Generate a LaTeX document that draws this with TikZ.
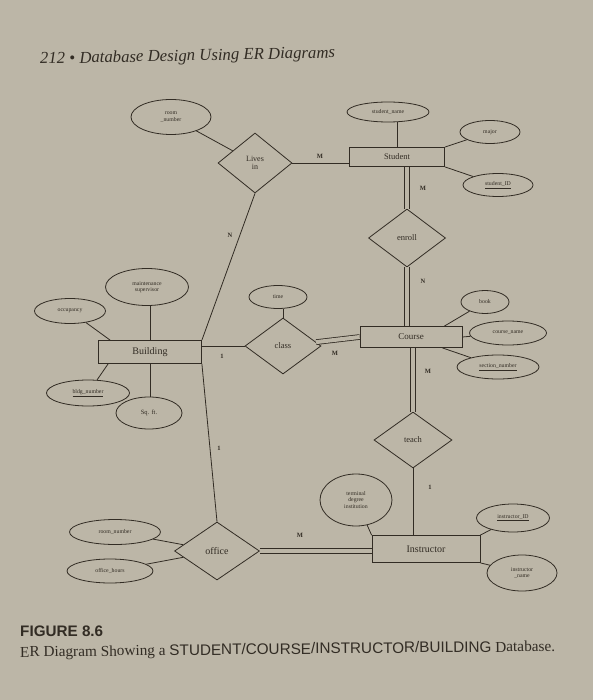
\documentclass[tikz,border=0pt]{standalone}
\usepackage{graphicx}
\usepackage{fontspec}
\setmainfont{Liberation Serif}
\newfontfamily\capsans{Liberation Sans}
\usetikzlibrary{shapes.geometric}
\definecolor{paper}{RGB}{188,182,167}
\definecolor{ink}{RGB}{50,44,36}
\begin{document}
\begin{tikzpicture}[x=1pt,y=-1pt,
  ent/.style={draw=ink, line width=0.8pt, rectangle, inner sep=0pt, text=ink, font=\fontsize{9}{10}\selectfont},
  rel/.style={draw=ink, line width=0.8pt, diamond, inner sep=0pt, text=ink, align=center, font=\fontsize{8.5}{9}\selectfont},
  attr/.style={draw=ink, line width=0.8pt, ellipse, inner sep=0pt, text=ink, align=center, font=\fontsize{5.8}{6.4}\selectfont},
  lab/.style={text=ink, font=\fontsize{6.5}{7}\selectfont\bfseries},
  conn/.style={draw=ink, line width=0.8pt},
  dbl/.style={draw=ink, line width=0.8pt, double=paper, double distance=4pt}]
\fill[paper] (0,0) rectangle (593,700);
\useasboundingbox (0,0) rectangle (593,700);
% header
\node[anchor=base west, text=ink, rotate=1.2, inner sep=0pt] (hdr) at (40,64)
  {\resizebox{295pt}{!}{\itshape 212 \textbullet\ Database Design Using ER Diagrams}};
% top part
\node[attr, minimum width=80, minimum height=35] (rn) at (171,117) {room\\\_number};
\node[rel, minimum width=74, minimum height=60, font=\fontsize{8}{8.5}\selectfont] (lives) at (255,163) {Lives\\in};
\node[ent, minimum width=95, minimum height=19, font=\fontsize{8.5}{9}\selectfont] (student) at (397,157) {Student};
\node[attr, minimum width=82, minimum height=20] (sname) at (388,112) {student\_name};
\node[attr, minimum width=60, minimum height=23] (major) at (490,132) {major};
\node[attr, minimum width=70, minimum height=23] (sid) at (498,185) {\underline{student\_ID}};
\node[rel, minimum width=77, minimum height=58] (enroll) at (407,238) {enroll};
\node[ent, minimum width=102, minimum height=21] (course) at (411,337) {Course};
\node[attr, minimum width=58, minimum height=23] (time) at (278,297) {time};
\node[rel, minimum width=76, minimum height=56] (class) at (283,346) {class};
\node[attr, minimum width=48, minimum height=23] (book) at (485,302) {book};
\node[attr, minimum width=77, minimum height=24] (cname) at (508,333) {course\_name};
\node[attr, minimum width=82, minimum height=24] (secnum) at (498,367) {\underline{section\_number}};
\node[rel, minimum width=78, minimum height=56] (teach) at (413,440) {teach};
\node[ent, minimum width=108, minimum height=27, font=\fontsize{10}{11}\selectfont] (instr) at (426,549) {Instructor};
\node[attr, minimum width=72, minimum height=52] (tdi) at (356,500) {terminal\\degree\\institution};
\node[attr, minimum width=73, minimum height=28] (iid) at (513,518) {\underline{instructor\_ID}};
\node[attr, minimum width=70, minimum height=36] (iname) at (522,573) {instructor\\\_name};
\node[rel, minimum width=85, minimum height=58, font=\fontsize{10}{11}\selectfont] (office) at (217,551) {office};
\node[attr, minimum width=91, minimum height=25] (rn2) at (115,532) {room\_number};
\node[attr, minimum width=86, minimum height=24] (oh) at (110,571) {office\_hours};
\node[ent, minimum width=103, minimum height=23, font=\fontsize{10}{11}\selectfont] (building) at (150,352) {Building};
\node[attr, minimum width=83, minimum height=37] (ms) at (147,287) {maintenance\\supervisor};
\node[attr, minimum width=71, minimum height=25] (occ) at (70,311) {occupancy};
\node[attr, minimum width=83, minimum height=26] (bn) at (88,393) {\underline{bldg\_number}};
\node[attr, minimum width=66, minimum height=32, font=\fontsize{6.5}{7}\selectfont] (sqft) at (149,413) {Sq. ft.};
% connectors
\draw[conn] (rn) -- (lives);
\draw[conn] (lives.east) -- (lives.east -| student.west);
\draw[conn] (student.north) -- (student.north |- sname.south);
\draw[conn] (student.north east) -- (major);
\draw[conn] (student.south east) -- (sid);
\draw[dbl] (student.south -| enroll.north) -- (enroll.north);
\draw[dbl] (enroll.south) -- (enroll.south |- course.north);
\draw[conn] (class.north) -- (class.north |- time.south);
\draw[dbl] (course.west) -- (class);
\draw[conn] ([xshift=-18pt]course.north east) -- (book);
\draw[conn] (course.east) -- (cname);
\draw[conn] ([xshift=-20pt]course.south east) -- (secnum);
\draw[dbl] (course.south -| teach.north) -- (teach.north);
\draw[conn] (teach.south) -- (teach.south |- instr.north);
\draw[conn] (instr.north west) -- (tdi);
\draw[conn] (instr.north east) -- (iid);
\draw[conn] (instr.south east) -- (iname);
\draw[dbl] (office.east) -- (office.east -| instr.west);
\draw[conn] (rn2) -- (office);
\draw[conn] (oh) -- (office);
\draw[conn] (building.south east) -- (office.north);
\draw[conn] (lives.south) -- (building.north east);
\draw[conn] (class.west) -- (class.west -| building.east);
\draw[conn] (building.north) -- (building.north |- ms.south);
\draw[conn] ([xshift=12pt]building.north west) -- (occ);
\draw[conn] ([xshift=10pt]building.south west) -- (bn);
\draw[conn] (building.south) -- (building.south |- sqft.north);
% cardinality labels
\node[lab] (l1) at (320,156) {M};
\node[lab] (l2) at (423,188) {M};
\node[lab] (l3) at (423,281) {N};
\node[lab] (l4) at (335,353) {M};
\node[lab] (l5) at (428,371) {M};
\node[lab] (l6) at (430,487) {1};
\node[lab] (l7) at (300,535) {M};
\node[lab] (l8) at (219,448) {1};
\node[lab] (l9) at (230,235) {N};
\node[lab] (l10) at (222,356) {1};
% caption
\node[anchor=base west, text=ink, inner sep=0pt] (cap1) at (20,636)
  {\resizebox{83pt}{!}{\capsans\bfseries FIGURE 8.6}};
\node[anchor=base west, text=ink, inner sep=0pt, rotate=0.6] (cap2) at (20,657)
  {\resizebox{535pt}{!}{ER Diagram Showing a {\capsans STUDENT/COURSE/INSTRUCTOR/BUILDING} Database.}};
\end{tikzpicture}
\end{document}
